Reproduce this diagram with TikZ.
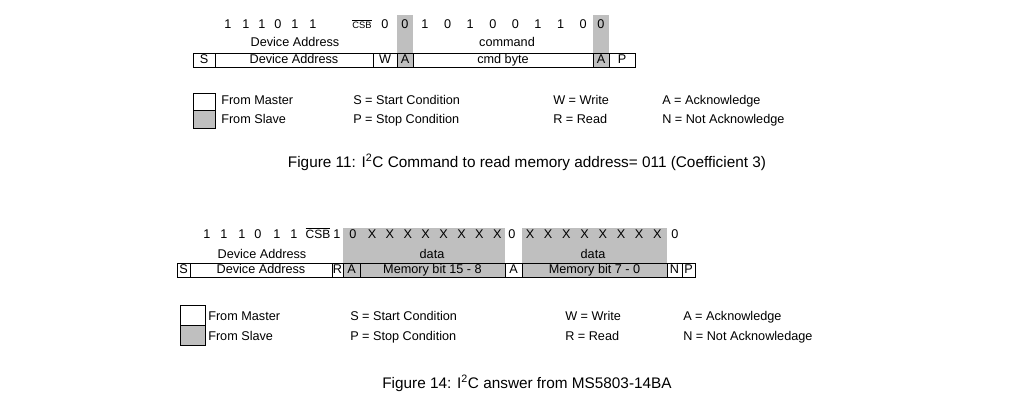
\documentclass[tikz,border=0pt]{standalone}
\usepackage{fontspec}
\setmainfont{Liberation Sans}
\begin{document}
\begin{tikzpicture}[x=0.75pt,y=-0.75pt,
  txt/.style={inner sep=0pt,text height=6.8pt,text depth=1.8pt,font=\fontsize{9.5}{10}\selectfont},
  captxt/.style={inner sep=0pt,font=\fontsize{11.5}{12}\selectfont},
  sl/.style={fill=black!25},
  bx/.style={draw=black,line width=0.6pt}]
\useasboundingbox (0,0) rectangle (1025,418);
\newcommand{\cellbox}[7]{% name x1 x2 y1 y2 text style
  \path[bx,#7] (#2,#4) rectangle (#3,#5);
  \node[txt] (#1) at ({(#2+#3)/2},{(#4+#5)/2+0.5}) {#6};}
% ---------- Figure 11 ----------
\fill[sl] (397,15) rectangle (413,53);
\fill[sl] (593,15) rectangle (609,53);
\foreach \v/\x [count=\i] in {1/228,1/246,1/262,0/278,1/295,1/313}
  \node[txt] (a\i) at (\x,25) {\v};
\node[txt] (acsb) at (362,25) {$\overline{\mbox{\fontsize{7}{8}\selectfont CSB}}$};
\node[txt] (ab7) at (385,25) {0};
\node[txt] (aa1) at (405,25) {0};
\foreach \v [count=\i] in {1,0,1,0,0,1,1,0}
  \node[txt] (ac\i) at ({425+(\i-1)*22.6},25) {\v};
\node[txt] (aa2) at (601,25) {0};
\node[txt] (adl) at (295,43) {Device Address};
\node[txt] (acl) at (507,43) {command};
\cellbox{aS}{193}{215}{53}{67}{S}{}
\cellbox{aD}{215}{373}{53}{67}{Device Address}{}
\cellbox{aW}{373}{397}{53}{67}{W}{}
\cellbox{aA}{397}{413}{53}{67}{A}{sl}
\cellbox{aC}{413}{593}{53}{67}{cmd byte}{}
\cellbox{aA2}{593}{609}{53}{67}{A}{sl}
\cellbox{aP}{609}{635}{53}{67}{P}{}
\draw[bx] (193,93) rectangle (215,110);
\filldraw[bx,sl] (193,110) rectangle (215,128);
\node[txt,anchor=west] (am) at (221,101) {From Master};
\node[txt,anchor=west] (as) at (221,120) {From Slave};
\node[txt,anchor=west] (ast) at (353,101) {S = Start Condition};
\node[txt,anchor=west] (asp) at (353,120) {P = Stop Condition};
\node[txt,anchor=west] (aw) at (553,101) {W = Write};
\node[txt,anchor=west] (ar) at (553,120) {R = Read};
\node[txt,anchor=west] (aak) at (662,101) {A = Acknowledge};
\node[txt,anchor=west] (ank) at (662,120) {N = Not Acknowledge};
\node[captxt] (cap1) at (527,162) {Figure 11: I\textsuperscript{2}C Command to read memory address= 011 (Coefficient 3)};
% ---------- Figure 14 ----------
\fill[sl] (343,228) rectangle (505,263);
\fill[sl] (522,228) rectangle (667,263);
\foreach \v/\x [count=\i] in {1/207,1/224,1/242,0/258,1/277,1/294}
  \node[txt] (b\i) at (\x,235) {\v};
\node[txt] (bcsb) at (318,235) {$\overline{\mbox{\fontsize{9}{10}\selectfont CSB}}$};
\node[txt] (bb7) at (337,235) {1};
\node[txt] (ba1) at (353,235) {0};
\foreach \i in {1,...,8}
  \node[txt] (bx\i) at ({372+(\i-1)*17.9},235) {X};
\node[txt] (ba2) at (512,235) {0};
\foreach \i in {1,...,8}
  \node[txt] (by\i) at ({530+(\i-1)*18.2},235) {X};
\node[txt] (ba3) at (675,235) {0};
\node[txt] (bdl) at (262,255) {Device Address};
\node[txt] (bd1) at (432,255) {data};
\node[txt] (bd2) at (593,255) {data};
\cellbox{bS}{177}{190}{263}{277}{S}{}
\cellbox{bD}{190}{332}{263}{277}{Device Address}{}
\cellbox{bR}{332}{343}{263}{277}{R}{}
\cellbox{bA}{343}{360}{263}{277}{A}{sl}
\cellbox{bM1}{360}{505}{263}{277}{Memory bit 15 - 8}{sl}
\cellbox{bA2}{505}{522}{263}{277}{A}{}
\cellbox{bM2}{522}{667}{263}{277}{Memory bit 7 - 0}{sl}
\cellbox{bN}{667}{682}{263}{277}{N}{}
\cellbox{bP}{682}{695}{263}{277}{P}{}
\draw[bx] (180,305) rectangle (205,325);
\filldraw[bx,sl] (180,325) rectangle (205,345);
\node[txt,anchor=west] (bm) at (208,317) {From Master};
\node[txt,anchor=west] (bs) at (208,337) {From Slave};
\node[txt,anchor=west] (bst) at (350,317) {S = Start Condition};
\node[txt,anchor=west] (bsp) at (350,337) {P = Stop Condition};
\node[txt,anchor=west] (bw) at (565,317) {W = Write};
\node[txt,anchor=west] (br) at (565,337) {R = Read};
\node[txt,anchor=west] (bak) at (683,317) {A = Acknowledge};
\node[txt,anchor=west] (bnk) at (683,337) {N = Not Acknowledage};
\node[captxt] (cap2) at (527,383) {Figure 14: I\textsuperscript{2}C answer from MS5803-14BA};
\end{tikzpicture}
\end{document}
